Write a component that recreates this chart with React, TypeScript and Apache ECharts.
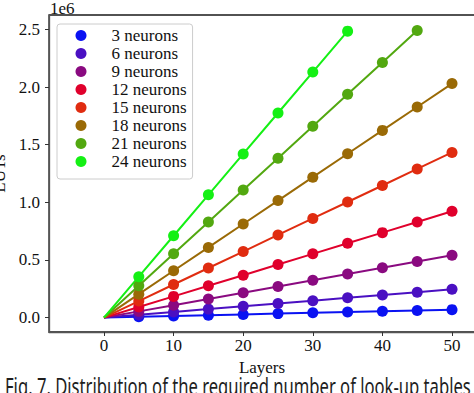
import React, { useEffect, useRef } from "react";
import * as echarts from "echarts";

const layers = [5, 10, 15, 20, 25, 30, 35, 40, 45, 50];
const seriesNames = [
  "3 neurons",
  "6 neurons",
  "9 neurons",
  "12 neurons",
  "15 neurons",
  "18 neurons",
  "21 neurons",
  "24 neurons",
];
const seriesColors = [
  "#0a12f2",
  "#4a10c2",
  "#8a0a80",
  "#e0002c",
  "#e02c10",
  "#9a6a06",
  "#52a810",
  "#14f014",
];
const lut3 = [6900, 13800, 20700, 27600, 34500, 41400, 48300, 55200, 62100, 69000];
const lut6 = [24500, 49000, 73500, 98000, 122500, 147000, 171500, 196000, 220500, 245000];
const lut9 = [54000, 108000, 162000, 216000, 270000, 324000, 378000, 432000, 486000, 540000];
const lut12 = [92000, 184000, 276000, 368000, 461000, 553000, 645000, 737000, 829000, 922000];
const lut15 = [143000, 287000, 430000, 573000, 717000, 860000, 1003000, 1146000, 1290000, 1433000];
const lut18 = [203000, 406000, 609000, 812000, 1015000, 1218000, 1421000, 1624000, 1827000, 2030000];
const lut21 = [277000, 553000, 830000, 1107000, 1383000, 1660000, 1937000, 2213000, 2490000];
const lut24 = [355000, 710000, 1065000, 1420000, 1775000, 2130000, 2485000];
const allSeries = [lut3, lut6, lut9, lut12, lut15, lut18, lut21, lut24];

const xTicks = [0, 10, 20, 30, 40, 50];
const yTicks = [0, 500000, 1000000, 1500000, 2000000, 2500000];
const caption = "Fig. 7. Distribution of the required number of look-up tables";

const SERIF = "Liberation Serif";
const SANS = "Noto Sans";

export default function App() {
  const ref = useRef<HTMLDivElement>(null);
  useEffect(() => {
    if (!ref.current) return;
    const chart = echarts.init(ref.current, undefined, { renderer: "svg" });

    const capSize = 24;
    let capScale = 0.75;
    try {
      const c = document.createElement("canvas").getContext("2d");
      if (c) {
        c.font = `${capSize}px ${SANS}`;
        const w = c.measureText(caption).width;
        if (w > 0) capScale = 466 / w;
      }
    } catch (e) {}

    const series = allSeries.map((vals, i) => ({
      name: seriesNames[i],
      type: "line",
      color: seriesColors[i],
      symbol: "circle",
      symbolSize: 11,
      lineStyle: { width: 2, color: seriesColors[i] },
      itemStyle: { color: seriesColors[i] },
      data: [
        { value: [0, 0], symbol: "none" },
        ...vals.map((v, j) => [layers[j], v]),
      ],
    }));

    chart.setOption({
      animation: false,
      backgroundColor: "#ffffff",
      grid: {
        left: 49,
        top: 15,
        right: -33,
        bottom: 61,
        outerBoundsMode: "none",
        containLabel: false,
        show: true,
        borderColor: "#1a1a1a",
        borderWidth: 1.3,
        backgroundColor: "transparent",
      },
      xAxis: {
        type: "value",
        min: -7.9,
        max: 57.9,
        axisLine: { show: true, onZero: false, lineStyle: { color: "#555", width: 1.3 } },
        axisTick: { show: true, customValues: xTicks, length: 4, lineStyle: { color: "#333" } },
        axisLabel: {
          customValues: xTicks,
          fontSize: 17,
          fontFamily: SERIF,
          color: "#111",
          margin: 5,
        },
        splitLine: { show: false },
        name: "Layers",
        nameLocation: "middle",
        nameGap: 27,
        nameTextStyle: { fontSize: 17, fontFamily: SERIF, color: "#111", padding: [0, 32, 0, 0] },
      },
      yAxis: {
        type: "value",
        min: -125000,
        max: 2625000,
        axisLine: { show: true, onZero: false, lineStyle: { color: "#555", width: 1.3 } },
        axisTick: { show: true, customValues: yTicks, length: 4, lineStyle: { color: "#333" } },
        axisLabel: {
          customValues: yTicks,
          fontSize: 17,
          fontFamily: SERIF,
          color: "#111",
          margin: 9,
          formatter: (v: number) => (v / 1e6).toFixed(1),
        },
        splitLine: { show: false },
        name: "LUTs",
        nameLocation: "middle",
        nameGap: 33,
        nameTextStyle: { fontSize: 17, fontFamily: SERIF, color: "#111" },
      },
      legend: {
        data: seriesNames,
        orient: "vertical",
        left: 57,
        top: 24,
        padding: [3, 6, 9, 18.5],
        icon: "circle",
        itemWidth: 11,
        itemHeight: 11,
        itemGap: 1,
        borderColor: "#cccccc",
        borderWidth: 1,
        borderRadius: 3,
        backgroundColor: "#ffffff",
        textStyle: {
          fontSize: 17,
          fontFamily: SERIF,
          color: "#111",
          lineHeight: 16,
          padding: [0, 0, 0, 20],
        },
      },
      graphic: [
        {
          type: "text",
          left: 50,
          top: 0,
          style: { text: "1e6", font: `17px ${SERIF}`, fill: "#111" },
        },
        {
          type: "text",
          x: 5,
          y: 386,
          scaleX: capScale,
          style: {
            text: caption,
            font: `${capSize}px ${SANS}`,
            fill: "#1e1e1e",
            verticalAlign: "middle",
            align: "left",
          },
        },
      ],
      series,
    });
    return () => chart.dispose();
  }, []);
  return (
    <div
      ref={ref}
      style={{ position: "fixed", left: 0, top: 0, width: 474, height: 393 }}
    />
  );
}
